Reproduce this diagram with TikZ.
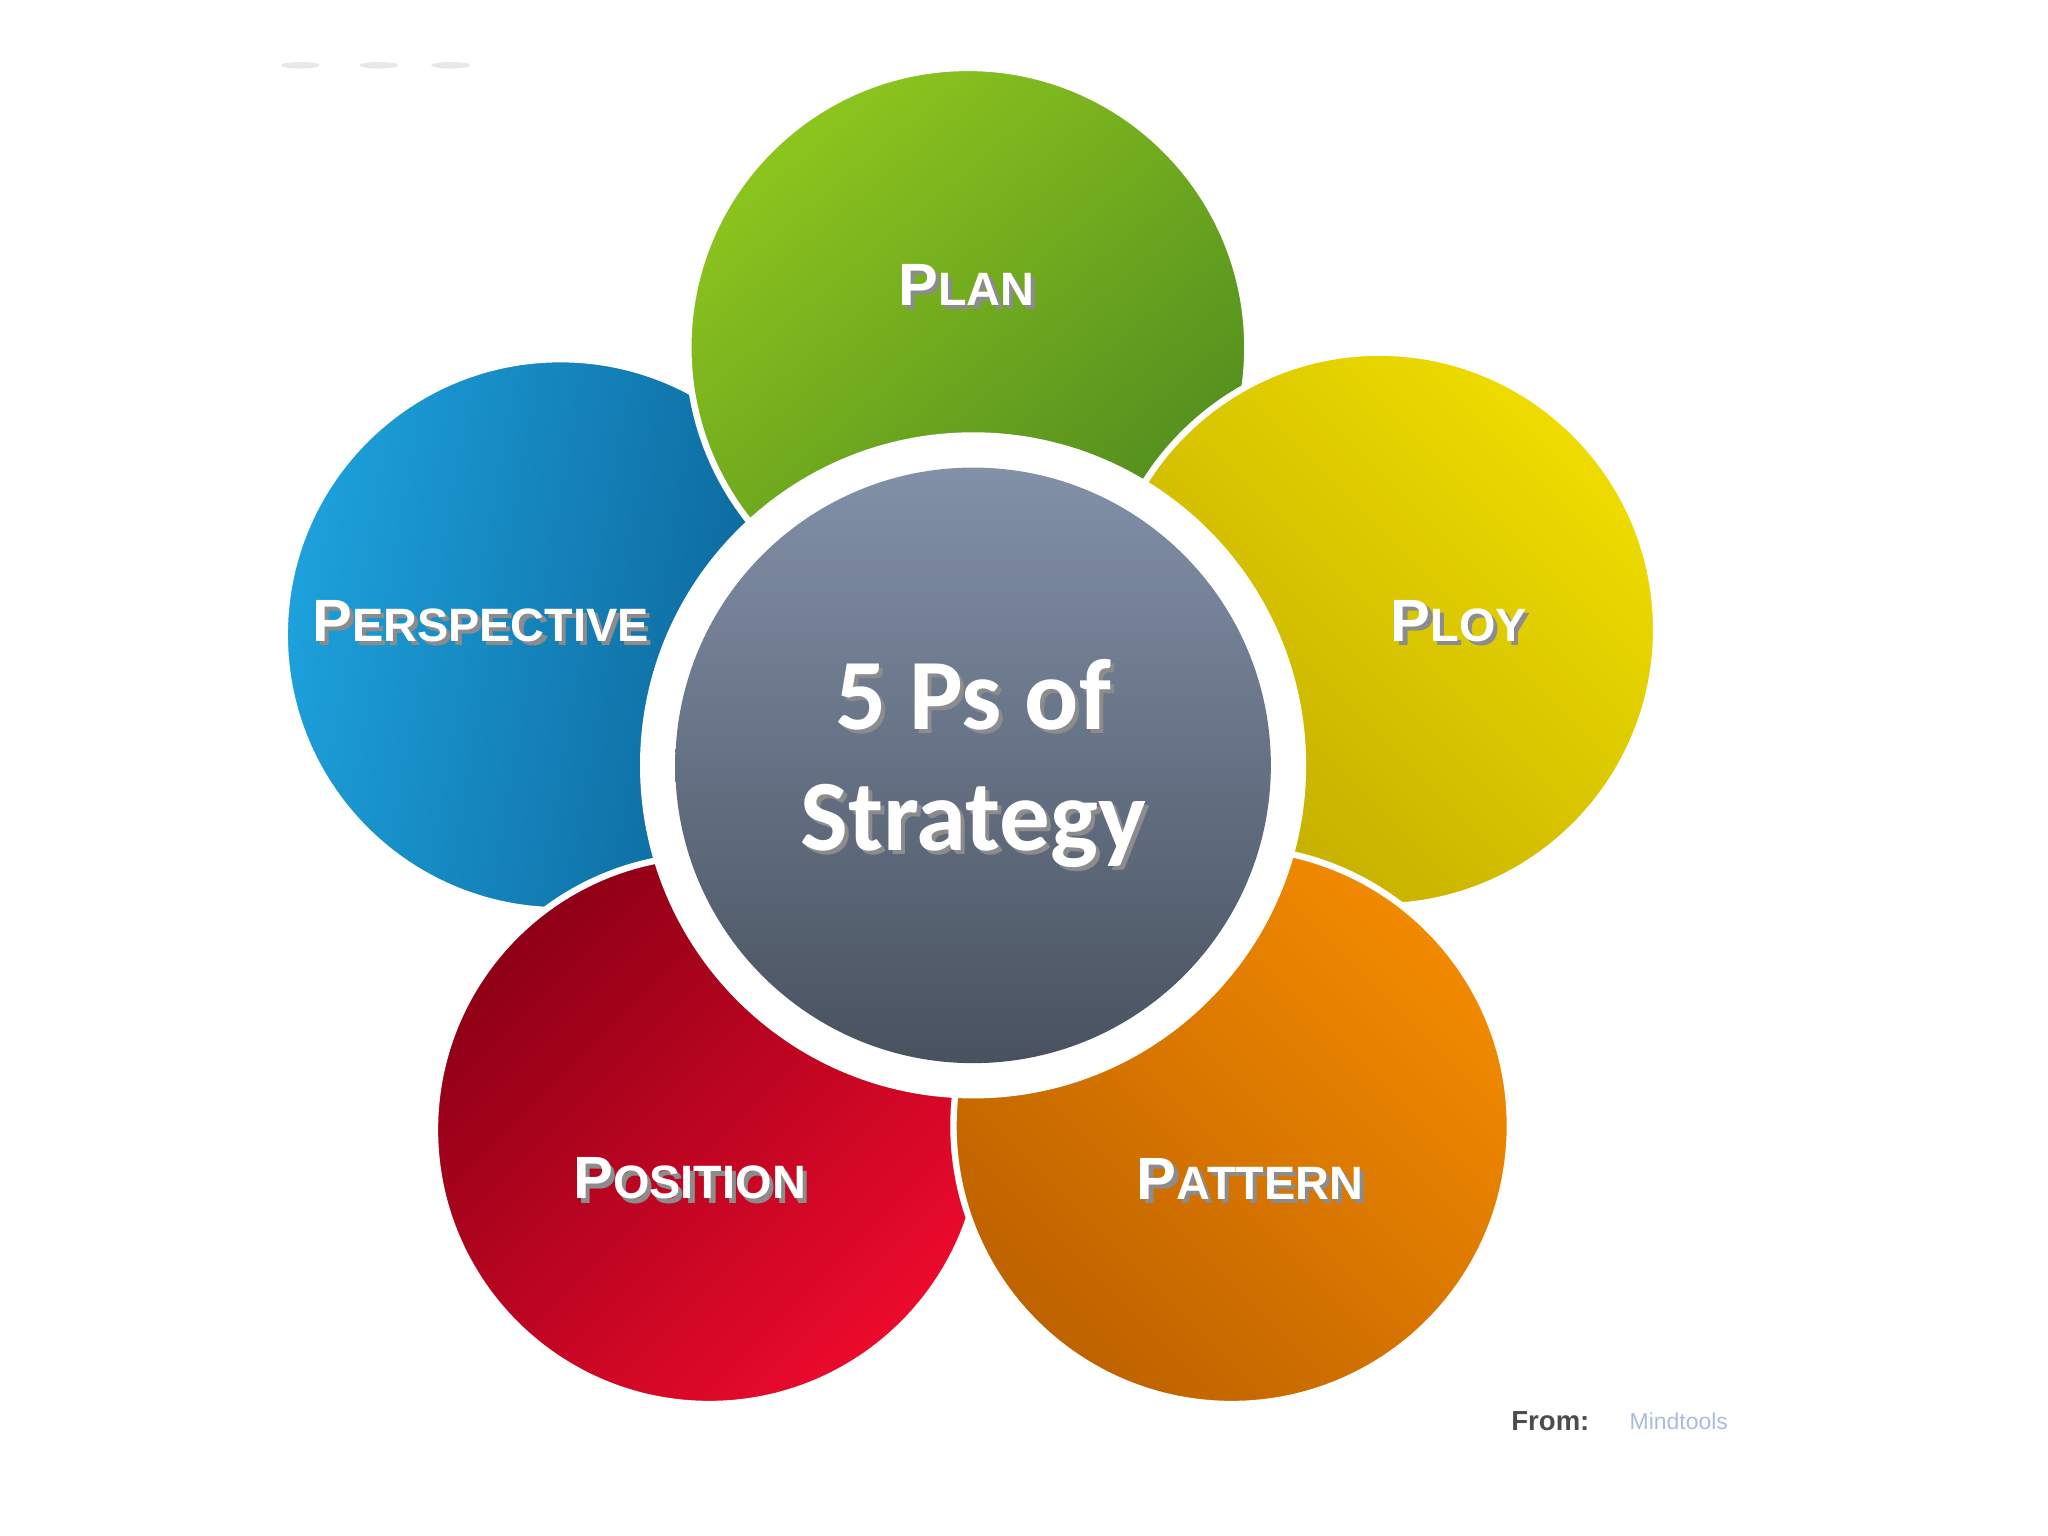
\documentclass[tikz,border=0pt]{standalone}
\usepackage{fontspec}
\setmainfont{Liberation Sans}
\newfontfamily\corefont{Carlito}

\definecolor{planA}{HTML}{8DC51E}
\definecolor{planB}{HTML}{4E8A1F}
\definecolor{ployA}{HTML}{EEDC00}
\definecolor{ployB}{HTML}{C2AC00}
\definecolor{perspA}{HTML}{1DA1DC}
\definecolor{perspB}{HTML}{0A5F92}
\definecolor{posA}{HTML}{8E0016}
\definecolor{posB}{HTML}{EC0A2C}
\definecolor{patA}{HTML}{F28A00}
\definecolor{patB}{HTML}{BE6200}
\definecolor{coreA}{HTML}{8290A8}
\definecolor{coreB}{HTML}{48525F}
\definecolor{srcblue}{HTML}{A8BCE0}

% text with a soft drop shadow
\newcommand{\shtext}[1]{\makebox[0pt][l]{\hspace{0.9pt}\raisebox{-0.9pt}{\color{black!45}#1}}#1}
% big first letter, small caps after it
\newcommand{\pcap}[2]{{\fontsize{13}{13}\selectfont #1}{\fontsize{10.2}{10}\selectfont #2}}

\begin{document}
\begin{tikzpicture}[
  petal/.style={circle, draw=white, line width=1.4pt, inner sep=0pt, minimum size=#1},
  pname/.style={text=white, font=\bfseries, inner sep=0pt}
]
\useasboundingbox (0,0) rectangle (15.68,11.76);

% smudges top left
\foreach \x in {2.30,2.90,3.45}
  \fill[black!9] (\x,11.26) ellipse (0.15 and 0.025);

% outer circles, back to front
\node[petal=4.22cm, top color=perspA, bottom color=perspB, shading angle=80] (persp) at (4.29,6.90) {};
\node[petal=4.28cm, top color=planA, bottom color=planB, shading angle=40] (plan) at (7.41,9.10) {};
\node[petal=4.24cm, top color=ployA, bottom color=ployB, shading angle=-45] (ploy) at (10.56,6.94) {};
\node[petal=4.20cm, top color=posA, bottom color=posB, shading angle=45] (pos) at (5.43,3.11) {};
\node[petal=4.26cm, top color=patA, bottom color=patB, shading angle=-45] (pat) at (9.43,3.14) {};

% centre
\node[circle, fill=white, inner sep=0pt, minimum size=5.10cm] (ring) at (7.45,5.90) {};
\node[circle, inner sep=0pt, minimum size=4.56cm, top color=coreA, bottom color=coreB] (core) at (ring) {};

\node[text=white, font=\corefont\bfseries\fontsize{22}{27}\selectfont, align=center] (title) at (core)
  {\shtext{5 Ps of}\\[-0.5pt]\shtext{Strategy}};

% labels
\node[pname] (plant) at (7.40,9.56) {\shtext{\pcap{P}{LAN}}};
\node[pname] (ployt) at (11.17,6.99) {\shtext{\pcap{P}{LOY}}};
\node[pname] (perspt) at (3.68,6.99) {\shtext{\pcap{P}{ERSPECTIVE}}};
\node[pname] (post) at (5.28,2.72) {\shtext{\pcap{P}{OSITION}}};
\node[pname] (patt) at (9.57,2.72) {\shtext{\pcap{P}{ATTERN}}};

% source
\node[text=black!70, font=\bfseries\fontsize{6}{7}\selectfont, inner sep=0pt] (from) at (11.87,0.88) {From:};
\node[text=srcblue, font=\fontsize{5}{6}\selectfont, inner sep=0pt, anchor=west] (src) at (12.47,0.88) {Mindtools};

\end{tikzpicture}
\end{document}
